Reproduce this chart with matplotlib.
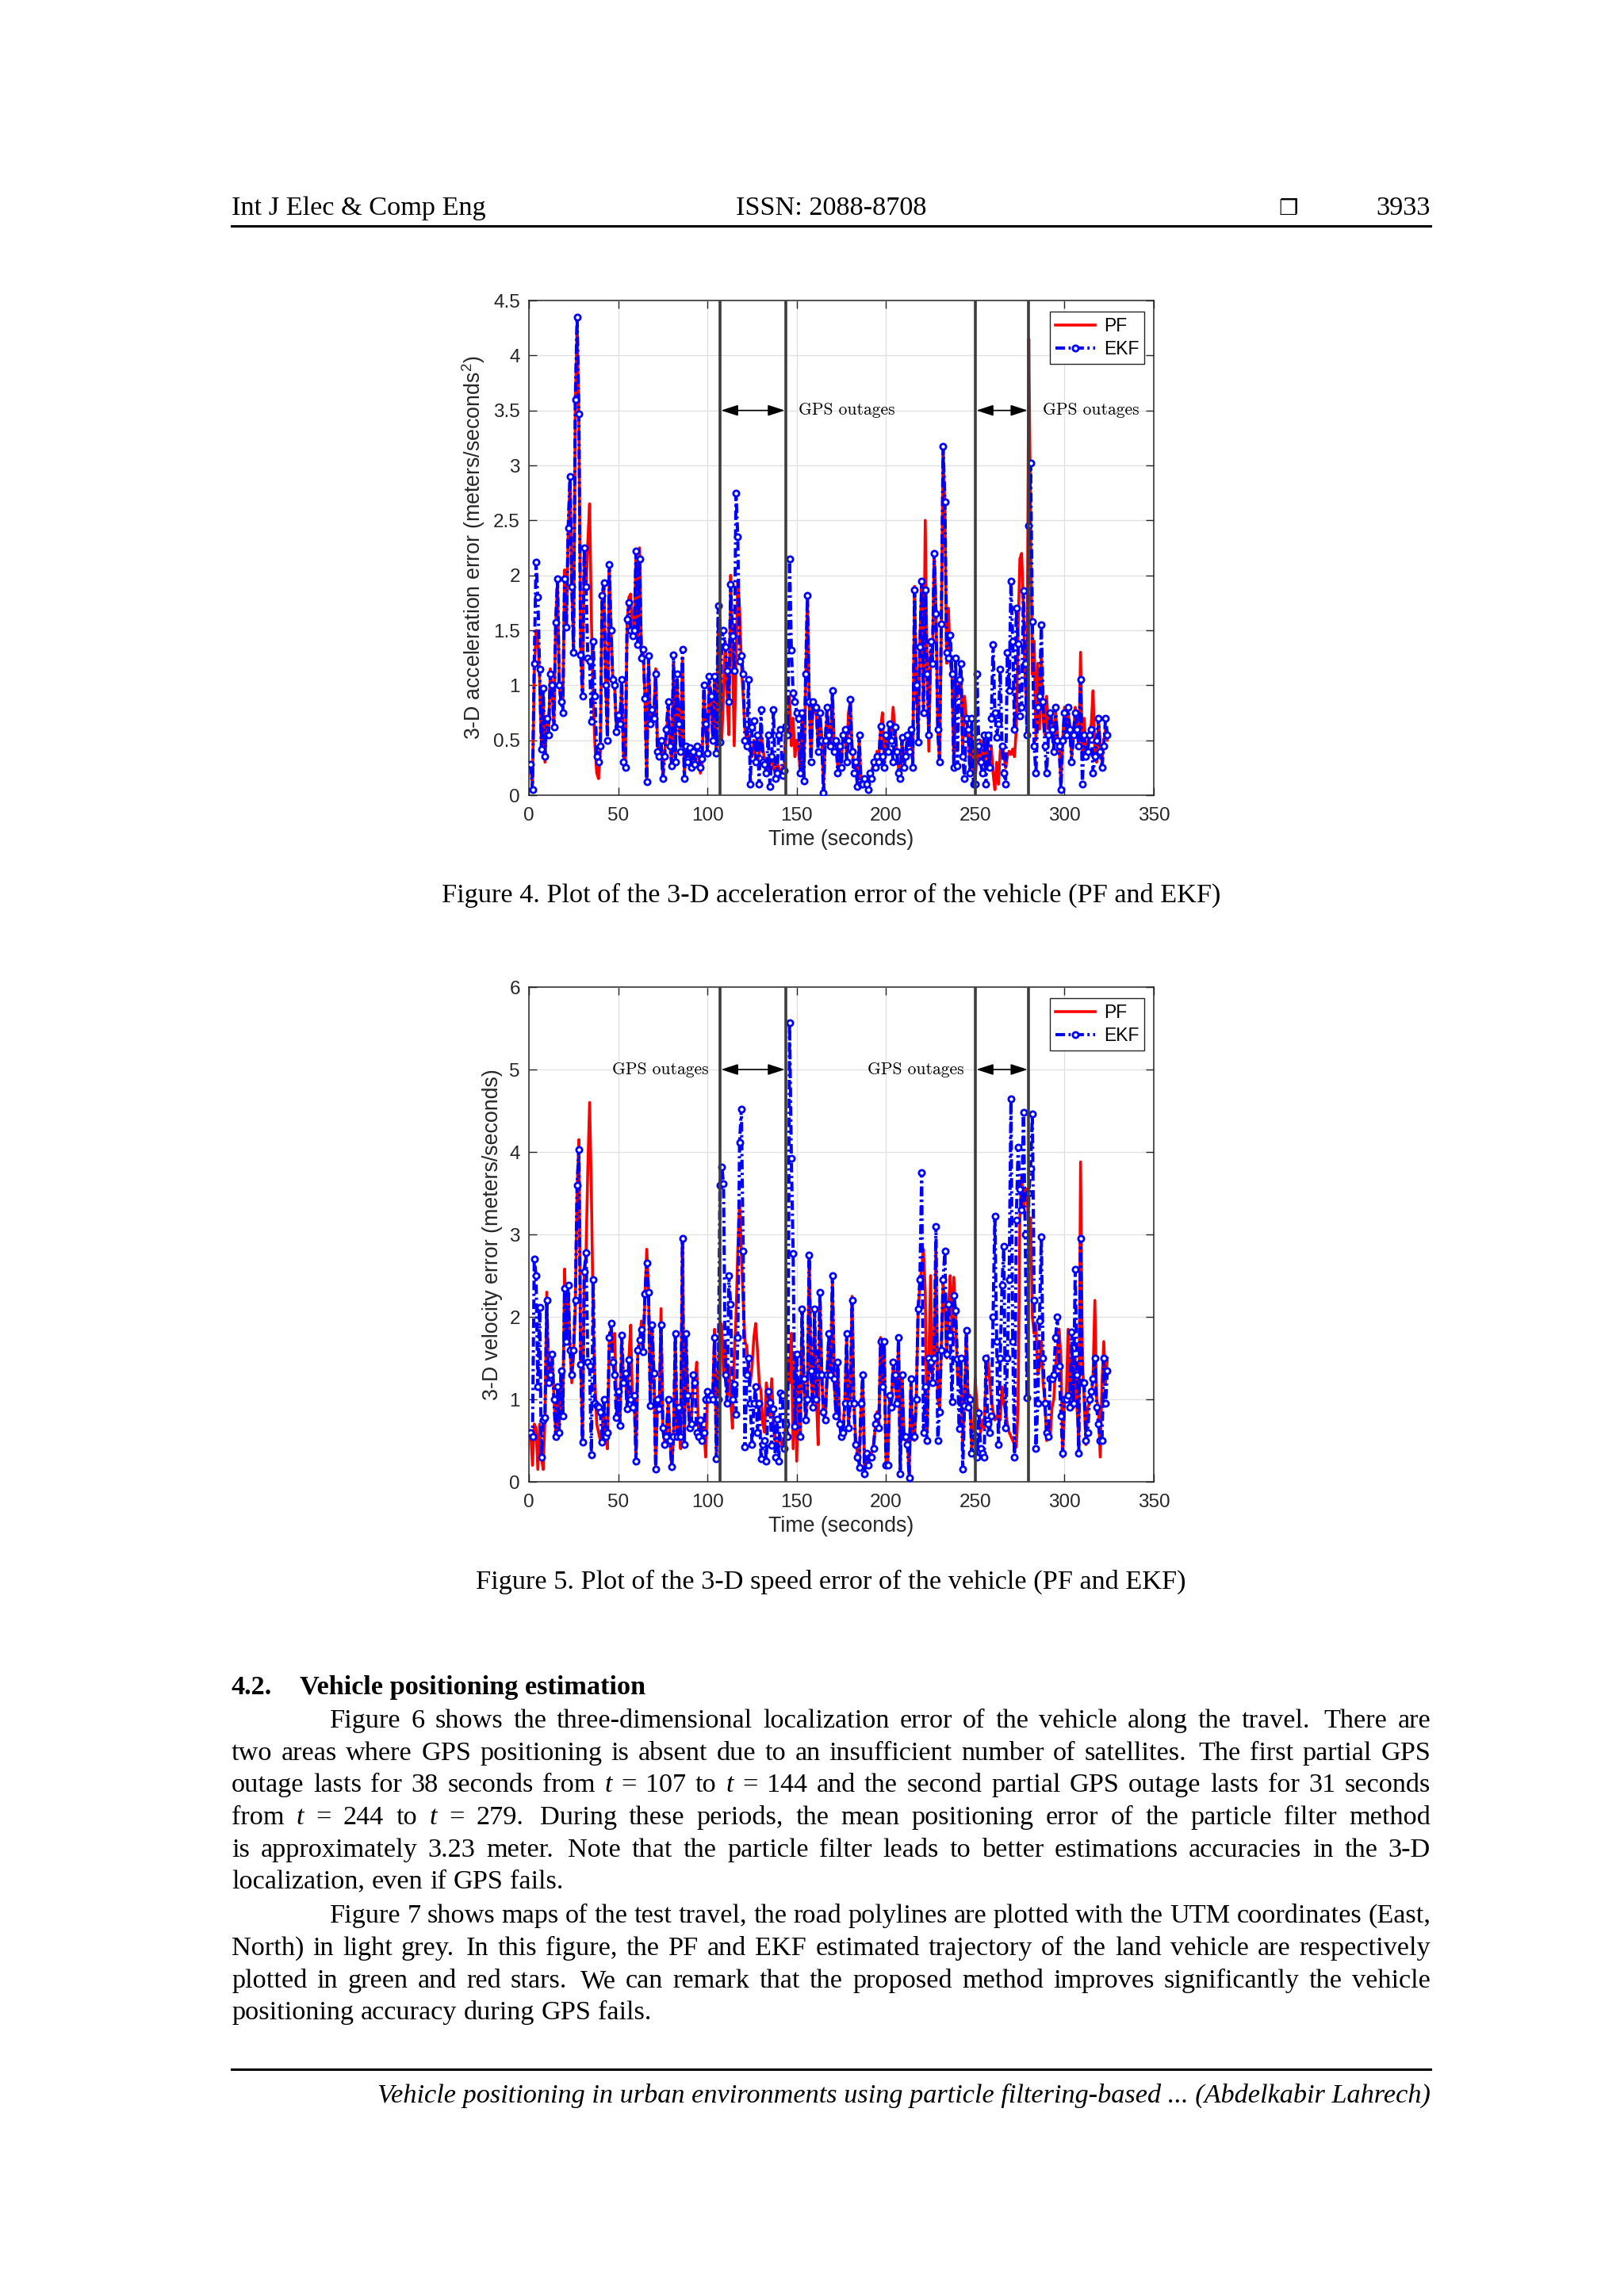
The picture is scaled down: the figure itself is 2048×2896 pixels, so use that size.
import matplotlib
matplotlib.use('Agg')
import matplotlib.pyplot as plt
import numpy as np
from matplotlib.transforms import IdentityTransform
from matplotlib.lines import Line2D
from matplotlib.ticker import FuncFormatter

# ---------------- data ----------------
# Figure 4: 3-D acceleration error, one sample per second (t = 1 ... 324)
acc_pf = [
    0.25, 0.10, 1.10, 1.50, 1.45, 1.05, 0.45, 0.90, 0.30, 0.70,
    0.55, 1.15, 0.95, 0.65, 1.55, 1.95, 1.00, 0.85, 0.80, 2.05,
    1.55, 2.40, 2.85, 1.95, 1.35, 3.55, 4.30, 3.40, 1.35, 0.95,
    2.20, 1.85, 2.30, 2.65, 1.60, 0.90, 0.45, 0.20, 0.15, 0.40,
    1.80, 1.90, 1.00, 0.55, 2.05, 1.50, 1.05, 1.00, 0.60, 0.75,
    0.65, 1.00, 0.35, 0.30, 1.55, 1.80, 1.83, 1.45, 1.50, 2.20,
    1.40, 2.25, 1.30, 1.30, 0.90, 0.15, 1.25, 0.65, 0.80, 0.75,
    1.15, 0.45, 0.40, 0.50, 0.20, 0.40, 0.55, 0.80, 0.45, 0.30,
    1.20, 0.35, 1.05, 0.65, 0.45, 1.25, 0.20, 0.45, 0.35, 0.40,
    0.30, 0.40, 0.30, 0.45, 0.35, 0.20, 0.30, 0.95, 0.60, 0.40,
    1.00, 0.85, 0.55, 1.05, 0.40, 1.55, 1.60, 0.50, 0.90, 1.40,
    0.90, 0.55, 2.00, 1.30, 0.45, 1.20, 1.95, 1.70, 1.20, 0.90,
    0.60, 0.50, 0.55, 0.40, 0.35, 0.50, 0.35, 0.28, 0.40, 0.55,
    0.45, 0.30, 0.25, 0.20, 0.35, 0.30, 0.25, 0.20, 0.30, 0.25,
    0.20, 0.25, 0.15, 0.75, 0.55, 0.90, 0.45, 0.70, 0.35, 0.50,
    0.45, 0.20, 0.70, 0.20, 1.00, 1.80, 0.85, 0.35, 0.80, 0.75,
    0.75, 0.45, 0.70, 0.55, 0.10, 0.50, 0.75, 0.55, 0.50, 0.90,
    0.45, 0.50, 0.25, 0.45, 0.30, 0.55, 0.60, 0.35, 0.75, 0.85,
    0.45, 0.25, 0.30, 0.10, 0.50, 0.15, 0.12, 0.15, 0.10, 0.05,
    0.20, 0.20, 0.30, 0.25, 0.40, 0.35, 0.60, 0.75, 0.30, 0.55,
    0.40, 0.65, 0.55, 0.80, 0.60, 0.40, 0.25, 0.20, 0.50, 0.30,
    0.35, 0.50, 0.45, 0.55, 0.30, 1.90, 1.00, 0.50, 1.40, 1.95,
    0.80, 2.50, 1.20, 0.40, 1.30, 1.20, 2.20, 1.70, 0.60, 0.30,
    1.50, 3.17, 2.60, 1.20, 1.70, 1.20, 1.10, 0.30, 1.05, 0.90,
    1.00, 1.10, 0.40, 0.90, 0.70, 0.55, 0.30, 0.60, 0.20, 0.15,
    0.40, 0.30, 0.50, 0.35, 0.30, 0.50, 0.35, 0.25, 0.45, 0.20,
    0.05, 0.30, 0.10, 0.40, 0.45, 0.38, 0.25, 0.35, 0.40, 0.37,
    0.42, 0.35, 0.60, 1.50, 2.15, 2.20, 1.70, 1.00, 0.80, 4.15,
    2.50, 1.10, 1.40, 0.50, 1.20, 0.60, 1.30, 0.70, 0.55, 0.90,
    0.60, 0.75, 0.70, 0.45, 0.75, 0.55, 0.45, 0.10, 0.50, 0.80,
    0.55, 0.75, 0.60, 0.35, 0.55, 0.80, 0.65, 0.45, 1.30, 0.35,
    0.70, 0.40, 0.45, 0.55, 0.65, 0.95, 0.40, 0.30, 0.70, 0.45,
    0.30, 0.50, 0.60, 0.50,
]
acc_ekf = [
    0.28, 0.05, 1.20, 2.12, 1.80, 1.15, 0.42, 0.97, 0.35, 0.70,
    0.55, 1.10, 1.00, 0.62, 1.57, 1.97, 1.00, 0.85, 0.75, 1.97,
    1.53, 2.43, 2.90, 1.90, 1.30, 3.60, 4.35, 3.47, 1.28, 0.90,
    2.25, 1.90, 1.25, 1.22, 0.67, 1.40, 0.90, 0.35, 0.30, 0.45,
    1.82, 1.93, 1.00, 0.50, 2.10, 1.50, 1.05, 1.00, 0.58, 0.73,
    0.65, 1.05, 0.30, 0.25, 1.60, 1.75, 1.50, 1.45, 1.50, 2.22,
    1.37, 2.15, 1.25, 1.33, 0.88, 0.12, 1.27, 0.65, 0.78, 0.70,
    1.10, 0.40, 0.35, 0.50, 0.15, 0.35, 0.60, 0.85, 0.45, 0.27,
    1.28, 0.30, 1.10, 0.65, 0.40, 1.33, 0.15, 0.45, 0.30, 0.43,
    0.25, 0.40, 0.28, 0.45, 0.38, 0.25, 0.33, 1.00, 0.65, 0.38,
    1.08, 0.90, 0.50, 1.08, 0.38, 1.72, 0.48, 1.40, 1.50, 1.35,
    1.13, 0.85, 1.92, 1.45, 1.13, 2.75, 2.35, 1.22, 1.27, 1.10,
    0.50, 0.45, 1.05, 0.10, 0.62, 0.68, 0.30, 0.55, 0.10, 0.78,
    0.30, 0.28, 0.20, 0.55, 0.08, 0.35, 0.78, 0.15, 0.20, 0.55,
    0.60, 0.18, 0.22, 0.63, 0.55, 2.15, 1.32, 0.93, 0.85, 0.75,
    0.70, 0.20, 0.75, 0.13, 1.10, 1.82, 0.85, 0.30, 0.85, 0.80,
    0.80, 0.40, 0.75, 0.50, 0.02, 0.50, 0.80, 0.55, 0.45, 0.95,
    0.40, 0.50, 0.20, 0.45, 0.25, 0.55, 0.60, 0.30, 0.50, 0.87,
    0.40, 0.20, 0.30, 0.08, 0.55, 0.10, 0.10, 0.15, 0.10, 0.05,
    0.20, 0.15, 0.30, 0.25, 0.35, 0.30, 0.63, 0.35, 0.25, 0.55,
    0.40, 0.65, 0.50, 0.30, 0.62, 0.40, 0.20, 0.15, 0.53, 0.25,
    0.35, 0.55, 0.40, 0.60, 0.25, 1.87, 1.00, 0.48, 1.35, 1.95,
    0.75, 1.87, 1.10, 0.55, 1.40, 1.20, 2.20, 1.65, 0.60, 0.30,
    1.56, 3.17, 2.67, 1.30, 1.25, 1.46, 1.10, 0.25, 1.25, 0.27,
    1.05, 1.20, 0.35, 0.15, 0.70, 0.60, 0.20, 0.70, 0.10, 0.10,
    1.10, 0.45, 0.30, 0.20, 0.55, 0.10, 0.55, 0.25, 0.70, 1.37,
    0.75, 0.53, 0.65, 1.15, 0.45, 0.20, 0.10, 1.30, 0.95, 1.95,
    1.40, 0.60, 1.70, 1.38, 0.72, 0.80, 1.86, 1.20, 0.55, 2.45,
    3.02, 1.58, 0.45, 0.20, 0.80, 0.90, 1.55, 0.85, 0.45, 0.20,
    0.55, 0.75, 0.60, 0.40, 0.80, 0.50, 0.45, 0.05, 0.50, 0.75,
    0.55, 0.80, 0.60, 0.30, 0.55, 0.75, 0.60, 0.45, 1.05, 0.10,
    0.55, 0.35, 0.40, 0.55, 0.60, 0.20, 0.35, 0.50, 0.70, 0.40,
    0.25, 0.45, 0.70, 0.55,
]

# Figure 5: 3-D speed error
vel_pf = [
    0.60, 0.20, 0.70, 0.65, 0.15, 0.70, 0.30, 0.15, 0.78, 2.30,
    1.20, 1.35, 1.50, 1.05, 0.60, 1.10, 0.65, 1.30, 0.85, 2.58,
    1.75, 2.30, 1.65, 1.20, 1.55, 2.15, 3.55, 4.15, 1.50, 0.55,
    2.50, 2.78, 3.80, 4.60, 3.50, 2.00, 1.20, 0.70, 0.60, 0.50,
    0.55, 0.95, 0.60, 0.40, 1.70, 1.85, 1.60, 1.80, 1.00, 0.95,
    0.70, 1.70, 1.20, 1.30, 0.95, 1.50, 1.90, 0.95, 1.00, 0.30,
    1.55, 1.70, 1.95, 1.60, 2.25, 2.82, 2.35, 1.00, 1.85, 1.30,
    0.20, 0.95, 0.90, 2.10, 0.70, 0.50, 0.60, 0.95, 0.55, 0.15,
    0.55, 1.75, 0.60, 0.85, 0.40, 2.90, 0.50, 1.75, 1.00, 0.70,
    0.75, 1.25, 1.20, 1.45, 0.60, 0.75, 0.55, 0.65, 0.30, 1.05,
    1.05, 1.00, 1.05, 1.85, 0.35, 1.30, 1.95, 1.90, 1.30, 1.70,
    1.05, 1.40, 1.00, 0.65, 1.50, 2.00, 2.80, 3.40, 2.80, 2.20,
    1.70, 1.65, 1.30, 1.20, 1.40, 1.75, 1.92, 1.60, 1.20, 1.10,
    0.70, 0.60, 1.20, 1.00, 0.80, 1.25, 0.70, 0.50, 0.45, 0.50,
    0.55, 0.40, 0.45, 0.80, 1.50, 1.20, 1.80, 0.40, 1.50, 0.25,
    1.20, 0.60, 2.00, 1.20, 0.80, 1.05, 2.70, 1.30, 0.95, 2.05,
    1.05, 0.45, 2.25, 1.35, 0.80, 0.80, 1.25, 1.75, 1.35, 2.45,
    1.20, 0.85, 1.40, 0.75, 0.60, 0.65, 1.00, 1.75, 0.70, 1.00,
    2.25, 1.00, 0.50, 0.35, 0.20, 0.90, 1.25, 0.15, 0.35, 0.25,
    0.30, 0.35, 0.45, 0.65, 0.85, 0.70, 1.75, 1.20, 1.65, 0.25,
    0.25, 1.00, 0.95, 1.40, 1.30, 1.00, 1.70, 0.15, 1.25, 0.60,
    0.50, 0.50, 0.10, 1.20, 0.60, 0.50, 1.05, 2.05, 2.40, 2.60,
    2.82, 2.30, 0.60, 1.45, 2.50, 1.30, 1.55, 2.80, 1.00, 0.90,
    1.65, 2.40, 2.20, 1.50, 2.10, 2.50, 1.80, 2.48, 2.00, 1.30,
    1.20, 1.45, 0.45, 1.00, 1.80, 0.95, 1.05, 0.40, 0.60, 1.25,
    0.90, 0.85, 0.60, 0.75, 0.65, 1.25, 1.53, 1.25, 1.00, 0.85,
    0.75, 0.80, 0.80, 0.75, 1.15, 0.95, 0.85, 0.70, 0.60, 0.55,
    0.50, 0.45, 0.42, 0.90, 3.20, 3.70, 3.30, 3.55, 3.55, 3.00,
    3.20, 2.00, 1.80, 1.90, 1.30, 1.40, 1.70, 1.20, 1.00, 0.50,
    0.65, 0.55, 0.90, 1.00, 1.40, 1.60, 1.85, 1.50, 0.30, 1.00,
    1.00, 1.85, 1.00, 1.50, 0.90, 1.50, 0.90, 0.50, 3.88, 1.50,
    1.00, 0.45, 0.90, 0.95, 1.00, 1.30, 2.20, 1.00, 0.90, 0.30,
    1.20, 1.70, 1.20, 1.50,
]
vel_ekf = [
    0.60, 0.55, 2.70, 2.50, 1.15, 2.12, 0.30, 0.75, 0.78, 2.20,
    1.20, 1.30, 1.55, 1.00, 0.55, 1.15, 0.60, 1.35, 0.80, 2.35,
    1.70, 2.38, 1.60, 1.30, 1.60, 2.20, 3.60, 4.03, 1.42, 0.48,
    2.55, 2.78, 1.45, 1.40, 0.33, 2.45, 0.95, 0.92, 0.90, 0.85,
    0.48, 1.00, 0.55, 0.60, 1.75, 1.92, 1.45, 1.30, 0.78, 1.10,
    0.68, 1.78, 1.20, 1.32, 0.88, 1.48, 1.00, 0.90, 1.05, 0.25,
    1.60, 1.72, 1.85, 1.58, 2.28, 2.65, 2.30, 0.92, 1.90, 1.32,
    0.15, 1.00, 0.88, 1.90, 0.65, 0.45, 0.55, 1.00, 0.50, 0.18,
    0.55, 1.80, 0.55, 0.90, 0.55, 2.95, 0.45, 1.80, 1.05, 0.65,
    0.70, 1.30, 1.20, 0.60, 0.55, 0.75, 0.50, 0.60, 1.00, 1.10,
    1.00, 1.05, 1.00, 1.75, 0.28, 1.00, 3.60, 3.82, 3.62, 1.30,
    0.95, 2.50, 2.15, 1.00, 1.18, 0.82, 1.75, 4.12, 4.52, 2.80,
    0.42, 1.30, 1.50, 0.95, 0.45, 0.95, 1.15, 0.60, 0.95, 0.28,
    0.45, 0.50, 0.25, 1.10, 0.96, 0.44, 0.88, 0.30, 0.76, 0.25,
    1.08, 1.05, 0.40, 0.70, 0.55, 5.57, 3.92, 2.77, 0.67, 1.55,
    1.00, 0.55, 2.10, 1.25, 0.75, 1.00, 2.75, 1.35, 0.90, 2.10,
    1.00, 1.30, 2.30, 1.30, 0.85, 0.75, 1.30, 1.80, 1.30, 2.50,
    1.25, 0.80, 1.45, 0.70, 0.55, 0.60, 0.95, 1.80, 0.65, 0.95,
    2.20, 0.95, 0.45, 0.30, 0.17, 0.95, 1.30, 0.10, 0.35, 0.20,
    0.30, 0.30, 0.40, 0.70, 0.80, 0.65, 1.70, 1.15, 1.70, 0.20,
    0.20, 1.05, 0.90, 1.45, 1.30, 0.95, 1.75, 0.10, 1.30, 0.55,
    0.55, 0.45, 0.05, 1.25, 0.55, 0.55, 1.00, 2.10, 2.45, 3.75,
    0.60, 1.15, 0.50, 1.50, 1.45, 1.20, 1.50, 3.10, 0.50, 0.85,
    1.60, 2.45, 2.80, 1.55, 2.15, 1.78, 0.97, 2.26, 2.08, 1.49,
    0.64, 1.50, 0.15, 0.92, 1.84, 0.90, 1.00, 0.35, 0.58, 0.55,
    0.30, 0.84, 0.40, 0.35, 0.30, 1.50, 0.70, 0.60, 0.80, 2.00,
    3.22, 1.70, 0.45, 1.50, 2.38, 2.86, 0.65, 1.50, 2.45, 4.64,
    1.70, 0.30, 3.17, 4.06, 3.55, 3.30, 4.48, 3.00, 1.02, 3.50,
    3.80, 4.46, 2.20, 0.40, 0.95, 1.95, 2.97, 1.50, 0.95, 0.60,
    0.55, 1.25, 1.25, 1.30, 1.75, 2.00, 1.40, 0.80, 0.35, 1.00,
    1.00, 1.05, 0.90, 1.82, 0.95, 2.58, 1.30, 0.35, 2.95, 1.20,
    1.20, 0.50, 0.60, 1.00, 1.10, 1.25, 1.50, 0.90, 0.70, 0.50,
    0.50, 1.50, 0.95, 1.35,
]

outage_edges = [107, 144, 250, 280]
x_ticks = [0, 50, 100, 150, 200, 250, 300, 350]
acc_yticks = [0, 0.5, 1, 1.5, 2, 2.5, 3, 3.5, 4, 4.5]
vel_yticks = [0, 1, 2, 3, 4, 5, 6]

header_left = 'Int J Elec & Comp Eng'
header_mid = 'ISSN: 2088-8708'
header_page = '3933'
caption4 = 'Figure 4. Plot of the 3-D acceleration error of the vehicle (PF and EKF)'
caption5 = 'Figure 5. Plot of the 3-D speed error of the vehicle (PF and EKF)'
section_no = '4.2.'
section_title = 'Vehicle positioning estimation'
para1 = [
    'Figure 6 shows the three-dimensional localization error of the vehicle along the travel. There are',
    'two areas where GPS positioning is absent due to an insufficient number of satellites. The first partial GPS',
    'outage lasts for 38 seconds from t = 107 to t = 144 and the second partial GPS outage lasts for 31 seconds',
    'from t = 244 to t = 279. During these periods, the mean positioning error of the particle filter method',
    'is approximately 3.23 meter. Note that the particle filter leads to better estimations accuracies in the 3-D',
    'localization, even if GPS fails.',
]
para2 = [
    'Figure 7 shows maps of the test travel, the road polylines are plotted with the UTM coordinates (East,',
    'North) in light grey. In this figure, the PF and EKF estimated trajectory of the land vehicle are respectively',
    'plotted in green and red stars. We can remark that the proposed method improves significantly the vehicle',
    'positioning accuracy during GPS fails.',
]
footer = 'Vehicle positioning in urban environments using particle filtering-based ... (Abdelkabir Lahrech)'

# ---------------- page setup ----------------
W, H = 2048, 2896
DPI = 100
BODY = 24.7
SERIF = 'Liberation Serif'
SANS = 'Liberation Sans'
INK = '#262626'

plt.rcParams['mathtext.fontset'] = 'custom'
plt.rcParams['mathtext.rm'] = SANS
plt.rcParams['mathtext.it'] = SANS + ':italic'

fig = plt.figure(figsize=(W / DPI, H / DPI), dpi=DPI)
fig.patch.set_facecolor('white')
px = IdentityTransform()
renderer = fig.canvas.get_renderer()


def ptext(x, y, s, **kw):
    # x, y in pixels measured from the top-left corner of the page
    kw.setdefault('family', SERIF)
    kw.setdefault('fontsize', BODY)
    kw.setdefault('va', 'baseline')
    return fig.text(x, H - y, s, transform=px, **kw)


def hrule(y, lw=2.2):
    fig.add_artist(Line2D([292, 1804], [H - y, H - y], transform=px, color='black', lw=lw))


def body_line(y, x0, x1, line, justify=True):
    words = line.split()
    items = [ptext(x0, y, w, style='italic' if w == 't' else 'normal') for w in words]
    widths = [it.get_window_extent(renderer).width for it in items]
    if justify:
        weights = [1.35 if w.endswith('.') else 1.0 for w in words[:-1]]
        unit = (x1 - x0 - sum(widths)) / sum(weights)
        gaps = [unit * k for k in weights]
    else:
        sp = ptext(0, 0, 'x x')
        sq = ptext(0, 0, 'xx')
        space = sp.get_window_extent(renderer).width - sq.get_window_extent(renderer).width
        sp.remove()
        sq.remove()
        gaps = [space] * (len(words) - 1)
    x = x0
    for i, it in enumerate(items):
        it.set_x(x)
        if i < len(gaps):
            x += widths[i] + gaps[i]


# header
ptext(292, 271, header_left)
ptext(1048, 271, header_mid, ha='center')
ptext(1625, 271, '\u2752', ha='center', family=['DejaVu Sans'], fontsize=BODY * 0.8)
ptext(1804, 271, header_page, ha='right')
hrule(285)


# ---------------- the two charts ----------------
def make_axes(top, bottom, left=667, right=1455):
    return fig.add_axes([left / W, 1 - bottom / H, (right - left) / W, (bottom - top) / H])


def gap_arrow(ax, x0, x1, y):
    ax.annotate('', xy=(x1, y), xytext=(x0, y),
                arrowprops=dict(arrowstyle='<|-|>,head_length=1.3,head_width=0.42',
                                color='black', lw=1.2, shrinkA=1, shrinkB=1), zorder=6)


def draw_panel(ax, pf, ekf, yticks, ylabel):
    t = np.arange(1, len(pf) + 1)
    ax.plot(t, pf, color='red', lw=2.6, label='PF', zorder=3)
    ax.plot(t, ekf, color='blue', lw=2.9, ls=(0, (3, 1.1, 0.7, 1.1)), marker='o', ms=5.2,
            mew=2.0, mfc='white', mec='blue', label='EKF', zorder=4)
    for xe in outage_edges:
        ax.axvline(xe, color='#3d3d3d', lw=2.6, zorder=5)
    ax.set_xlim(0, 350)
    ax.set_ylim(yticks[0], yticks[-1])
    ax.set_xticks(x_ticks)
    ax.set_yticks(yticks)
    ax.yaxis.set_major_formatter(FuncFormatter(lambda v, p: f'{v:g}'))
    ax.tick_params(direction='in', length=7, width=1, top=True, right=True,
                   labelsize=17.5, colors=INK, pad=8)
    ax.tick_params(axis='x', pad=11)
    for lab in ax.get_xticklabels() + ax.get_yticklabels():
        lab.set_family(SANS)
    for s in ax.spines.values():
        s.set_color(INK)
        s.set_linewidth(1.1)
    ax.grid(True, color='#e1e1e1', lw=1.0)
    ax.set_axisbelow(True)
    ax.set_xlabel('Time (seconds)', family=SANS, fontsize=19.3, color=INK, labelpad=4)
    ax.set_ylabel(ylabel, family=SANS, fontsize=19.3, color=INK, labelpad=6)
    leg = ax.legend(loc='upper right', bbox_to_anchor=(0.985, 0.977), borderaxespad=0,
                    prop={'family': SANS, 'size': 16.5}, fancybox=False, framealpha=1,
                    handlelength=2.2, handletextpad=0.45, labelspacing=0.25, borderpad=0.3)
    leg.get_frame().set_edgecolor(INK)
    leg.get_frame().set_linewidth(1.0)
    leg.set_zorder(10)


ax1 = make_axes(379, 1003)
draw_panel(ax1, acc_pf, acc_ekf, acc_yticks, '3-D acceleration error (meters/seconds$^{2}$)')
gap_arrow(ax1, outage_edges[0], outage_edges[1], 3.5)
gap_arrow(ax1, outage_edges[2], outage_edges[3], 3.5)
ax1.text(151, 3.5, 'GPS outages', family='cmr10', fontsize=15.5, va='center', ha='left', zorder=7)
ax1.text(288, 3.5, 'GPS outages', family='cmr10', fontsize=15.5, va='center', ha='left', zorder=7)

ax2 = make_axes(1245, 1869)
draw_panel(ax2, vel_pf, vel_ekf, vel_yticks, '3-D velocity error (meters/seconds)')
gap_arrow(ax2, outage_edges[0], outage_edges[1], 5)
gap_arrow(ax2, outage_edges[2], outage_edges[3], 5)
ax2.text(100.8, 5, 'GPS outages', family='cmr10', fontsize=15.5, va='center', ha='right', zorder=7)
ax2.text(243.5, 5, 'GPS outages', family='cmr10', fontsize=15.5, va='center', ha='right', zorder=7)

# captions
ptext(1048, 1138, caption4, ha='center')
ptext(1048, 2004, caption5, ha='center')

# section 4.2
ptext(292, 2137, section_no, weight='bold')
ptext(378, 2137, section_title, weight='bold')

base1 = [2179, 2220, 2260, 2301, 2342, 2382]
base2 = [2425, 2466, 2507, 2547]
for i, (y, line) in enumerate(zip(base1, para1)):
    body_line(y, 416 if i == 0 else 292, 1804, line, justify=i < len(para1) - 1)
for i, (y, line) in enumerate(zip(base2, para2)):
    body_line(y, 416 if i == 0 else 292, 1804, line, justify=i < len(para2) - 1)

# footer
hrule(2610)
ptext(1804, 2652, footer, ha='right', style='italic')

fig.savefig('out.png', dpi=DPI, facecolor='white')
